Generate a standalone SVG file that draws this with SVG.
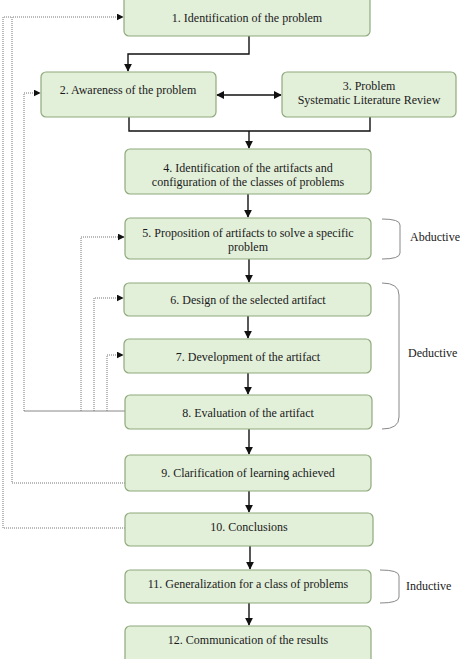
<svg xmlns="http://www.w3.org/2000/svg" width="474" height="659" viewBox="0 0 474 659">
<style>
.box{fill:#e2efd9;stroke:#8faa7c;stroke-width:1.2}
.t{font-family:"Liberation Serif","Times New Roman",serif;font-size:12px;fill:#1a1a1a;text-anchor:middle}
.lbl{font-family:"Liberation Serif","Times New Roman",serif;font-size:12px;fill:#1a1a1a}
.c{fill:none;stroke:#111;stroke-width:1.4}
.fb{fill:none;stroke:#777;stroke-width:1;stroke-dasharray:1 1}
.fs{fill:none;stroke:#888;stroke-width:1}
.br{fill:none;stroke:#888;stroke-width:1}
</style>
<defs>
<marker id="a" viewBox="0 0 10 10" refX="9" refY="5" markerWidth="8" markerHeight="8" markerUnits="userSpaceOnUse" orient="auto-start-reverse"><path d="M0,0 L10,5 L0,10 z" fill="#111"/></marker>
<marker id="s" viewBox="0 0 10 10" refX="9" refY="5" markerWidth="7" markerHeight="7" markerUnits="userSpaceOnUse" orient="auto"><path d="M0,0 L10,5 L0,10 z" fill="#111"/></marker>
</defs>
<rect width="474" height="659" fill="#fff"/>
<g id="connectors">
<path class="c" d="M249,36 V54 H128 V71" marker-end="url(#a)"/>
<path class="c" d="M217,95 H281" marker-start="url(#a)" marker-end="url(#a)"/>
<path class="c" d="M129,117 V131 H370 V117"/>
<path class="c" d="M249,131 V148" marker-end="url(#a)"/>
<path class="c" d="M248,194 V217" marker-end="url(#a)"/>
<path class="c" d="M249,259 V282" marker-end="url(#a)"/>
<path class="c" d="M248,316 V338" marker-end="url(#a)"/>
<path class="c" d="M248,373 V394" marker-end="url(#a)"/>
<path class="c" d="M249,429 V454" marker-end="url(#a)"/>
<path class="c" d="M249,491 V512" marker-end="url(#a)"/>
<path class="c" d="M250,546 V569" marker-end="url(#a)"/>
<path class="c" d="M249,603 V625" marker-end="url(#a)"/>
<path class="fs" d="M125,411 H24"/>
<path class="fb" d="M24,411 V93 H40" marker-end="url(#s)"/>
<path class="fb" d="M81,411 V237 H124" marker-end="url(#s)"/>
<path class="fb" d="M94,411 V298 H123" marker-end="url(#s)"/>
<path class="fb" d="M107,411 V355 H123" marker-end="url(#s)"/>
<path class="fb" d="M125,483 H12 V17 H123" marker-end="url(#s)"/>
<path class="fb" d="M125,528 H3 V17 H12"/>
<path class="br" d="M382,219 Q400,219 400,225 V253 Q400,259 382,259"/>
<path class="br" d="M382,283 Q399,283 399,295 V417 Q399,429 382,429"/>
<path class="br" d="M380,570 Q399,570 399,576 V597 Q399,603 380,603"/>
</g>
<g id="n1"><rect class="box" x="124" y="-5" width="246" height="41" rx="5"/><text class="t" x="247" y="22">1. Identification of the problem</text></g>
<g id="n2"><rect class="box" x="41" y="72" width="175" height="45" rx="5"/><text class="t" x="128" y="94">2. Awareness of the problem</text></g>
<g id="n3"><rect class="box" x="282" y="72" width="174" height="45" rx="5"/><text class="t" x="369" y="90">3. Problem</text><text class="t" x="369" y="104">Systematic Literature Review</text></g>
<g id="n4"><rect class="box" x="125" y="149" width="246" height="45" rx="5"/><text class="t" x="248" y="172">4. Identification of the artifacts and</text><text class="t" x="248" y="186">configuration of the classes of problems</text></g>
<g id="n5"><rect class="box" x="125" y="218" width="246" height="41" rx="5"/><text class="t" x="248" y="237">5. Proposition of artifacts to solve a specific</text><text class="t" x="248" y="251">problem</text></g>
<g id="n6"><rect class="box" x="124" y="283" width="247" height="33" rx="5"/><text class="t" x="248" y="304">6. Design of the selected artifact</text></g>
<g id="n7"><rect class="box" x="124" y="339" width="247" height="34" rx="5"/><text class="t" x="248" y="361">7. Development of the artifact</text></g>
<g id="n8"><rect class="box" x="125" y="395" width="247" height="34" rx="5"/><text class="t" x="248" y="417">8. Evaluation of the artifact</text></g>
<g id="n9"><rect class="box" x="125" y="455" width="246" height="36" rx="5"/><text class="t" x="248" y="477">9. Clarification of learning achieved</text></g>
<g id="n10"><rect class="box" x="125" y="513" width="248" height="33" rx="5"/><text class="t" x="249" y="531">10. Conclusions</text></g>
<g id="n11"><rect class="box" x="125" y="570" width="246" height="33" rx="5"/><text class="t" x="248" y="588">11. Generalization for a class of problems</text></g>
<g id="n12"><rect class="box" x="125" y="626" width="246" height="40" rx="5"/><text class="t" x="248" y="644">12. Communication of the results</text></g>
<g id="labels">
<text class="lbl" x="410" y="241">Abductive</text>
<text class="lbl" x="408" y="357">Deductive</text>
<text class="lbl" x="406" y="590">Inductive</text>
</g>
</svg>
